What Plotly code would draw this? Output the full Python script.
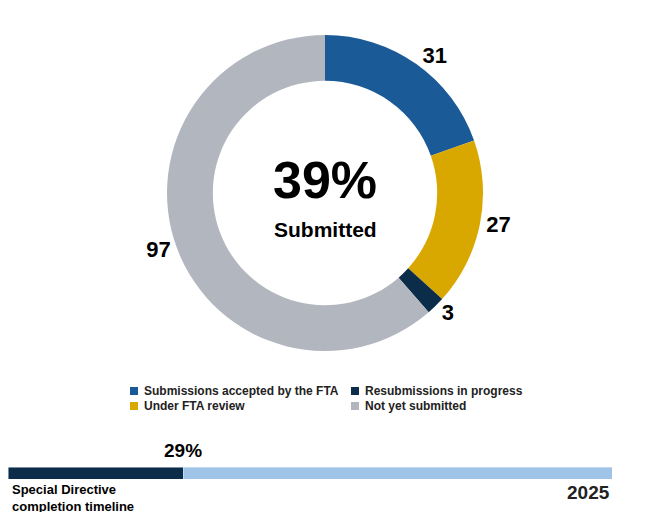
import plotly.graph_objects as go

labels = ["Submissions accepted by the FTA", "Under FTA review", "Resubmissions in progress", "Not yet submitted"]
values = [31, 27, 3, 97]
colors = ["#1a5a96", "#d9a800", "#0c2d4a", "#b2b6bf"]
pct_submitted = "39%"
timeline_done = 29
timeline_year = "2025"

# page body has an 8px margin, so the figure is drawn smaller and offset
W, H = 634, 504
OFF = 8
def px(x, y):
    return (x - OFF) / W, 1 - (y - OFF) / H

fig = go.Figure()
dx0, dy0 = px(167, 351)
dx1, dy1 = px(483, 35)
fig.add_trace(go.Pie(
    labels=labels, values=values, hole=0.71, sort=False, direction="clockwise",
    rotation=0, marker=dict(colors=colors), texttemplate="<b>%{value}</b>", textposition="outside",
    textfont=dict(size=22, color="black", family="Liberation Sans"),
    domain=dict(x=[dx0, dx1], y=[dy0, dy1]),
    showlegend=False,
))

# timeline bar
bx0, by0 = px(8, 479)
bx1, by1 = px(612, 467)
fig.add_trace(go.Bar(x=[timeline_done], y=[0], orientation="h", marker_color="#0c2d4a",
                     width=1, showlegend=False, hoverinfo="skip"))
fig.add_trace(go.Bar(x=[100 - timeline_done], y=[0], orientation="h", marker_color="#9fc4e8",
                     width=1, showlegend=False, hoverinfo="skip"))
fig.update_layout(
    barmode="stack",
    xaxis=dict(domain=[bx0, bx1], range=[0, 100], visible=False, fixedrange=True),
    yaxis=dict(domain=[by0, by1], range=[-0.5, 0.5], visible=False),
)

f = "Liberation Sans"
ann = []
x, y = px(325, 180)
ann.append(dict(x=x, y=y, text="<b>%s</b>" % pct_submitted, font=dict(size=52, family=f, color="black")))
x, y = px(325, 229)
ann.append(dict(x=x, y=y, text="<b>Submitted</b>", font=dict(size=21, family=f, color="black")))

# legend
leg = [(130, 391, 0), (351, 391, 2), (130, 406, 1), (351, 406, 3)]
for lx, ly, i in leg:
    x0, y0 = px(lx, ly - 4)
    x1, y1 = px(lx + 8, ly + 4)
    fig.add_shape(type="rect", xref="paper", yref="paper", x0=x0, x1=x1, y0=y1, y1=y0,
                  fillcolor=colors[i], line_width=0)
    x, y = px(lx + 12, ly)
    ann.append(dict(x=x, y=y, text="<b>%s</b>" % labels[i], xanchor="left",
                    font=dict(size=12, family=f, color="#222")))

x, y = px(183, 450)
ann.append(dict(x=x, y=y, text="<b>%d%%</b>" % timeline_done, font=dict(size=19, family=f, color="black")))
x, y = px(10, 498)
ann.append(dict(x=x, y=y, text="<b>Special Directive<br>completion timeline</b>", xanchor="left",
                align="left", font=dict(size=13, family=f, color="black")))
x, y = px(612, 492)
ann.append(dict(x=x, y=y, text="<b>%s</b>" % timeline_year, xanchor="right",
                font=dict(size=19, family=f, color="#222")))
for a in ann:
    a.update(xref="paper", yref="paper", showarrow=False)
    a.setdefault("xanchor", "center")
    a["yanchor"] = "middle"

fig.update_layout(width=W, height=H, margin=dict(l=0, r=0, t=0, b=0),
                  paper_bgcolor="white", plot_bgcolor="white", annotations=ann)
fig.write_html("out.html")
